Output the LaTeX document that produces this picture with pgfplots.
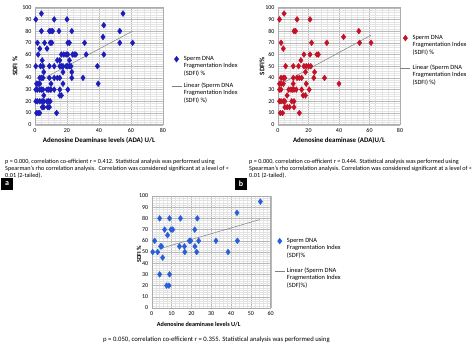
\documentclass[border=0pt]{standalone}
\usepackage{fontspec}
\setmainfont{Carlito}
\usepackage{pgfplots}
\pgfplotsset{compat=1.18}
\definecolor{ablue}{RGB}{28,28,185}
\definecolor{bred}{RGB}{195,18,40}
\definecolor{cblue}{RGB}{40,95,215}
\definecolor{trend}{RGB}{128,128,128}
\pgfplotsset{
 excel/.style={
  scale only axis, anchor=south west,
  ymin=0,ymax=100, ytick={0,10,...,100},
  minor x tick num=4, minor y tick num=4,
  grid=both,
  major grid style={draw=gray!55, line width=0.35pt},
  minor grid style={draw=gray!22, line width=0.3pt},
  axis line style={draw=gray!65, line width=0.4pt},
  major tick length=0pt, minor tick length=0pt,
  tick label style={font=\fontsize{6}{7}\selectfont},
  /pgf/number format/assume math mode=true,
  label style={font=\bfseries\fontsize{6.9}{8}\selectfont},
  legend style={draw=none, fill=none, font=\fontsize{6.4}{7.4}\selectfont,
    cells={align=left}, anchor=north west, row sep=4pt},
  legend cell align=left,
 },
 mk/.style={only marks, mark=diamond*, mark size=2.9pt, mark options={solid}},
 markleg/.style={legend image code/.code={\draw[##1] plot coordinates {(5pt,7.4pt)};}},
 lineleg/.style={legend image code/.code={\draw[##1] (0pt,7.4pt) -- (10pt,7.4pt);}},
}
\begin{document}
\begin{tikzpicture}
\path[use as bounding box] (0pt,0pt) rectangle (474pt,353pt);
% ---------------- panel a
\begin{axis}[excel, at={(35pt,228.3pt)}, width=128pt, height=117pt,
  xmin=0, xmax=80, xtick={0,20,...,80},
  xlabel={Adenosine Deaminase levels (ADA) U/L}, ylabel={SDFI \%},
  xlabel style={at={(axis description cs:0.5,-0.139)}, anchor=center},
  ylabel style={at={(axis description cs:-0.156,0.5)}, anchor=center},
  legend style={at={(axis description cs:1.04,0.62)}, row sep=2pt}]
\addplot[mk, color=ablue, markleg] coordinates {
(4,95)
(0.5,90) (12,90) (20,90)
(4,80) (9,80) (10,80) (11,80) (15,80) (23,80)
(1.5,70) (6,70) (9.5,70) (10.5,70) (20.5,70) (21.5,70) (31,70)
(3,65) (7.5,65)
(2,60) (16.5,60) (18,60) (19.5,60) (20.5,60) (23.5,60) (24.5,60) (25.5,60) (32,60)
(4.5,55) (14,55) (15.5,55) (21.5,55)
(0.5,50) (3.5,50) (5,50) (9,50) (12,50) (15.5,50) (16.5,50) (17.5,50) (19.5,50) (20.5,50) (21.5,50) (22.5,50)
(5.5,45) (17.5,45) (23,45)
(3,40) (4,40) (5,40) (9,40) (12,40) (14,40) (15.5,40) (23,40) (30,40)
(1,35) (2,35) (3,35) (10,35) (17.5,35)
(0.5,30) (1.5,30) (3,30) (4,30) (5,30) (7.5,30) (8.5,30) (9.5,30) (10,30) (12,30) (15.5,30) (20.5,30)
(5.5,25) (15.5,25) (16.5,25)
(0.5,20) (1.5,20) (3,20) (4.5,20) (5.5,20) (7.5,20) (8.5,20) (9.5,20)
(4.5,15) (5.5,15) (8,15) (9,15)
(1,10) (2,10) (3,10) (13.5,10)
(55,95) (43,85) (53,80) (42.5,75) (53,70) (61,70) (43,60) (39,50) (39.5,35)
};
\addlegendentry{Sperm DNA\\Fragmentation Index\\(SDFI) \%}
\addplot[trend, line width=0.5pt, no marks, lineleg] coordinates {(4,38.5) (61,80)};
\addlegendentry{Linear (Sperm DNA\\Fragmentation Index\\(SDFI) \%)}
\end{axis}
% ---------------- panel b
\begin{axis}[excel, at={(278pt,228.3pt)}, width=122pt, height=117pt,
  xmin=0, xmax=80, xtick={0,20,...,80},
  xlabel={Adenosine deaminase (ADA)U/L}, ylabel={SDFI\%},
  xlabel style={at={(axis description cs:0.5,-0.139)}, anchor=center},
  ylabel style={at={(axis description cs:-0.131,0.5)}, anchor=center},
  legend style={at={(axis description cs:0.975,0.8)}, row sep=5pt}]
\addplot[mk, color=bred, markleg] coordinates {
(4,95)
(1,90) (12.5,90) (21,90)
(10.5,80) (11.5,80)
(2,70) (22,70) (32,70)
(3.5,65)
(17,60) (21,60) (25.5,60) (26.5,60)
(15,55)
(5,50) (10,50) (13.5,50) (17,50) (18.5,50) (20,50) (21.5,50)
(18,45) (24,45)
(2,40) (3.5,40) (4.5,40) (10,40) (12.5,40) (14,40) (15.5,40) (23.5,40) (30.5,40)
(1,35) (2,35) (3.5,35) (10,35) (18.5,35) (40,35)
(1,30) (2,30) (7,30) (8.5,30) (9.5,30) (10.5,30) (12,30) (15.5,30) (20.5,30)
(6,25) (16.5,25) (18,25)
(1,20) (2,20) (3.5,20) (4.5,20) (9,20) (10.5,20)
(4.5,15) (6,15) (7.5,15) (10.5,15)
(1.5,10) (3,10) (14,10)
(43,75) (53,80) (53.5,70) (61,70)
};
\addlegendentry{Sperm DNA\\Fragmentation Index\\(SDFI) \%}
\addplot[trend, line width=0.5pt, no marks, lineleg] coordinates {(1.5,34.5) (61,76.5)};
\addlegendentry{Linear (Sperm DNA\\Fragmentation Index\\(SDFI) \%)}
\end{axis}
% ---------------- panel c
\begin{axis}[excel, at={(151.7pt,45pt)}, width=119pt, height=112pt,
  xmin=0, xmax=60, xtick={0,10,...,60},
  label style={font=\bfseries\fontsize{6.2}{7}\selectfont},
  xlabel={Adenosine deaminase levels U/L}, ylabel={SDFI \%},
  xlabel style={at={(axis description cs:0.395,-0.143)}, anchor=center},
  ylabel style={at={(axis description cs:-0.106,0.48)}, anchor=center},
  legend style={at={(axis description cs:1.005,0.66)}, row sep=5pt}]
\addplot[mk, color=cblue, markleg] coordinates {
(0.5,50) (1.5,60) (3,50) (4,80) (4,30) (4.5,55) (5,55) (5.5,45) (6.5,70) (7.5,20)
(8,65) (8.7,20) (9,80) (9,30) (9.7,70) (10.6,70) (14,55) (14.5,80) (16.5,55) (16.7,50)
(19,60) (19.7,60) (21.7,70) (21.8,55) (23,80) (22.7,50) (23.7,60) (32.4,60) (38.5,50)
(43,85) (43.2,60) (54.8,95)
};
\addlegendentry{Sperm DNA\\Fragmentation Index\\(SDF)\%}
\addplot[trend, line width=0.5pt, no marks, lineleg] coordinates {(4.2,53) (54.6,79)};
\addlegendentry{Linear (Sperm DNA\\Fragmentation Index\\(SDF)\%)}
\end{axis}
% ---------------- captions
\node[anchor=north west, inner sep=0pt, align=left, font=\fontsize{6.2}{7}\selectfont] at (5pt,194.5pt)
 {p = 0.000, correlation co-efficient r = 0.412. Statistical analysis was performed using\\
  Spearman's rho correlation analysis.\ \ Correlation was considered significant at a level of <\\
  0.01 (2-tailed).};
\node[anchor=north west, inner sep=0pt, align=left, font=\fontsize{6.2}{7}\selectfont] at (249pt,194.5pt)
 {p = 0.000, correlation co-efficient r = 0.444. Statistical analysis was performed using\\
  Spearman's rho correlation analysis. Correlation was considered significant at a level of <\\
  0.01 (2-tailed).};
\node[anchor=north west, inner sep=0pt, align=left, font=\fontsize{6.7}{8}\selectfont] at (103pt,16pt)
 {p = 0.050, correlation co-efficient r = 0.355. Statistical analysis was performed using};
\fill[black] (1pt,163pt) rectangle (13pt,175pt);
\node[white, font=\bfseries\fontsize{8}{9}\selectfont] at (7pt,169pt) {a};
\fill[black] (235pt,163pt) rectangle (247pt,175pt);
\node[white, font=\bfseries\fontsize{8}{9}\selectfont] at (241pt,169pt) {b};
\end{tikzpicture}
\end{document}
